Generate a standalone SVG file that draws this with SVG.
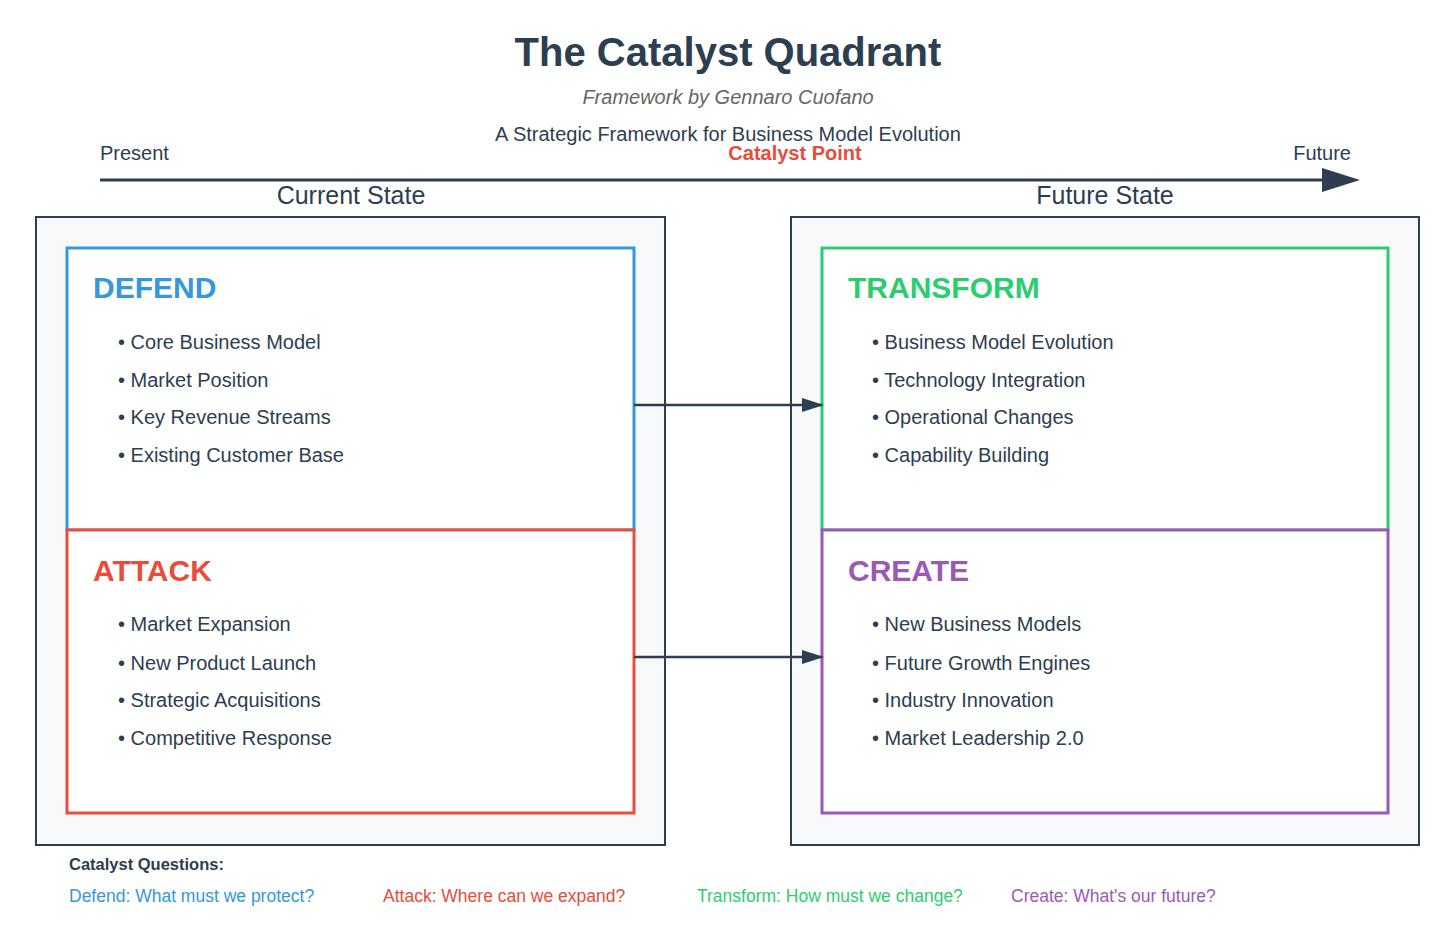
<svg xmlns="http://www.w3.org/2000/svg" width="1456" height="938" viewBox="0 0 1456 938">
<defs>
<style>
text{font-family:"Liberation Sans",Arial,sans-serif;fill:#2c3e50}
.b{font-size:20px}
.h{font-size:30px;font-weight:bold}
.q{font-size:17.5px}
.outer{fill:#f8f9fa;stroke:#2c3e50;stroke-width:2}
.quad{fill:#fff;stroke-width:3}
.conn{stroke:#2c3e50;stroke-width:2.5;fill:none}
</style>
<marker id="ah" markerWidth="22" markerHeight="16" refX="20" refY="8" orient="auto" markerUnits="userSpaceOnUse"><polygon points="0,1 22,8 0,15" fill="#2c3e50"/></marker>
</defs>
<rect width="1456" height="938" fill="#fff"/>
<g id="header">
<text x="728" y="66" text-anchor="middle" font-size="40" font-weight="bold">The Catalyst Quadrant</text>
<text x="728" y="104" text-anchor="middle" font-size="20" font-style="italic" style="fill:#666">Framework by Gennaro Cuofano</text>
<text x="728" y="141" text-anchor="middle" font-size="20">A Strategic Framework for Business Model Evolution</text>
</g>
<g id="timeline">
<text x="100" y="160" font-size="20">Present</text>
<text x="795" y="160" text-anchor="middle" font-size="20" font-weight="bold" style="fill:#e74c3c">Catalyst Point</text>
<text x="1351" y="160" text-anchor="end" font-size="20">Future</text>
<line x1="100" y1="180" x2="1325" y2="180" stroke="#2c3e50" stroke-width="3"/>
<polygon points="1322,168 1360,180 1322,192" fill="#2c3e50"/>
</g>
<g id="current">
<text x="351" y="204" text-anchor="middle" font-size="25">Current State</text>
<rect class="outer" x="36" y="217" width="629" height="628"/>
</g>
<g id="future">
<text x="1105" y="204" text-anchor="middle" font-size="25">Future State</text>
<rect class="outer" x="791" y="217" width="628" height="628"/>
</g>
<g id="defend">
<rect class="quad" x="67" y="248" width="567" height="282" stroke="#3498db"/>
<text class="h" x="93" y="298" style="fill:#3498db">DEFEND</text>
<text class="b" x="118" y="349">• Core Business Model</text>
<text class="b" x="118" y="387">• Market Position</text>
<text class="b" x="118" y="424">• Key Revenue Streams</text>
<text class="b" x="118" y="462">• Existing Customer Base</text>
</g>
<g id="attack">
<rect class="quad" x="67" y="530" width="567" height="283" stroke="#e74c3c"/>
<text class="h" x="93" y="581" style="fill:#e74c3c">ATTACK</text>
<text class="b" x="118" y="631">• Market Expansion</text>
<text class="b" x="118" y="670">• New Product Launch</text>
<text class="b" x="118" y="707">• Strategic Acquisitions</text>
<text class="b" x="118" y="745">• Competitive Response</text>
</g>
<g id="transform">
<rect class="quad" x="822" y="248" width="566" height="282" stroke="#2ecc71"/>
<text class="h" x="848" y="298" style="fill:#2ecc71">TRANSFORM</text>
<text class="b" x="872" y="349">• Business Model Evolution</text>
<text class="b" x="872" y="387">• Technology Integration</text>
<text class="b" x="872" y="424">• Operational Changes</text>
<text class="b" x="872" y="462">• Capability Building</text>
</g>
<g id="create">
<rect class="quad" x="822" y="530" width="566" height="283" stroke="#9b59b6"/>
<text class="h" x="848" y="581" style="fill:#9b59b6">CREATE</text>
<text class="b" x="872" y="631">• New Business Models</text>
<text class="b" x="872" y="670">• Future Growth Engines</text>
<text class="b" x="872" y="707">• Industry Innovation</text>
<text class="b" x="872" y="745">• Market Leadership 2.0</text>
</g>
<g id="connectors">
<line class="conn" x1="634" y1="405" x2="822" y2="405" marker-end="url(#ah)"/>
<line class="conn" x1="634" y1="657" x2="822" y2="657" marker-end="url(#ah)"/>
</g>
<g id="questions">
<text x="69" y="870" font-size="16.5" font-weight="bold">Catalyst Questions:</text>
<text class="q" x="69" y="902" style="fill:#3498db">Defend: What must we protect?</text>
<text class="q" x="383" y="902" style="fill:#e74c3c">Attack: Where can we expand?</text>
<text class="q" x="697" y="902" style="fill:#2ecc71">Transform: How must we change?</text>
<text class="q" x="1011" y="902" style="fill:#9b59b6">Create: What's our future?</text>
</g>
</svg>
